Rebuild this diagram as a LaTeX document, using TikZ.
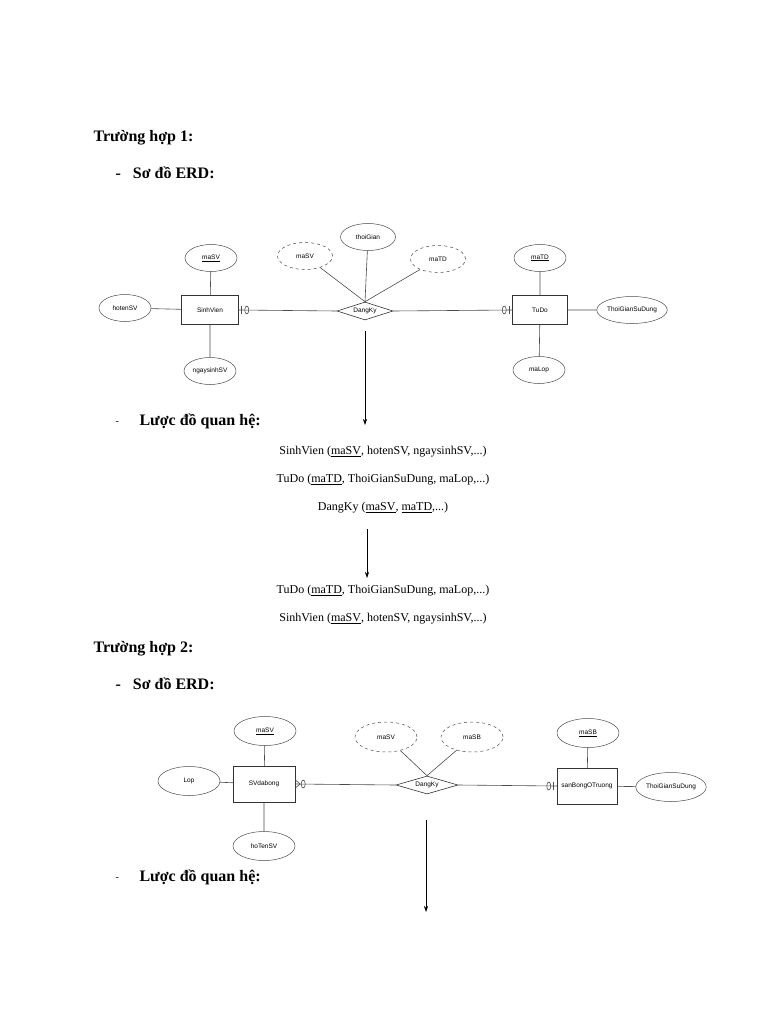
\documentclass[tikz,border=0pt]{standalone}
\usepackage{fontspec}
\setmainfont{Liberation Serif}
\newfontfamily\erdfont{Liberation Sans}
\usetikzlibrary{shapes.geometric,arrows.meta}
\begin{document}
\begin{tikzpicture}[x=1pt,y=-1pt,
  attr/.style={ellipse,draw=black!70,line width=0.5pt,minimum width=#1,minimum height=27pt,inner sep=0pt,font=\erdfont\fontsize{6.5}{7}\selectfont},
  attr/.default=52pt,
  wattr/.style={attr=#1,dashed},
  ent/.style={rectangle,draw=black!80,line width=0.5pt,minimum width=#1,minimum height=29pt,inner sep=0pt,font=\erdfont\fontsize{6.5}{7}\selectfont},
  rel/.style={diamond,aspect=1.9,draw=black!80,line width=0.6pt,minimum width=#1,inner sep=0pt,font=\erdfont\fontsize{6.5}{7}\selectfont},
  ln/.style={draw=black!70,line width=0.6pt},
  head/.style={anchor=west,font=\fontsize{16}{18}\selectfont\bfseries},
  body/.style={font=\fontsize{12}{14}\selectfont},
  arr/.style={-{Stealth[length=6pt,width=4pt]},line width=0.6pt}]
\useasboundingbox (0,0) rectangle (768,1024);
\fill[white] (0,0) rectangle (768,1024);
% headings
\node[head] (h1) at (90,138) {Trường hợp 1:};
\node[head] (d1) at (112,173) {-\hspace{12pt}Sơ đồ ERD:};
\node[anchor=west,font=\fontsize{10}{12}\selectfont] (d2) at (112,423) {-};
\node[head] (l1) at (136,421) {Lược đồ quan hệ:};
% ERD 1
\node[ent=57pt] (sv) at (210,310) {SinhVien};
\node[attr] (masv) at (211,258) {\underline{maSV}};
\node[attr] (hoten) at (125,308) {hotenSV};
\node[attr] (ngs) at (210,371) {ngaysinhSV};
\node[rel=56pt] (dk) at (365,311) {DangKy};
\node[wattr=55pt] (wmasv) at (305,256) {maSV};
\node[attr=55pt] (tg) at (368,237) {thoiGian};
\node[wattr=55pt] (wmatd) at (438,259) {maTD};
\node[ent=55pt] (td) at (540,310) {TuDo};
\node[attr] (matd) at (540,258) {\underline{maTD}};
\node[attr=56pt] (tgsd) at (632,310) {ThoiGianSuDung};
\node[attr] (malop) at (539,370) {maLop};
\draw[ln] (masv)--(sv) (hoten)--(sv) (ngs)--(sv);
\draw[ln] (wmasv)--(dk.north) (tg)--(dk.north) (wmatd)--(dk.north);
\draw[ln] (matd)--(td) (tgsd)--(td) (malop)--(td);
\draw[ln] (sv.east)--(dk.west);
\draw[ln] (dk.east)--(td.west);
\draw[ln] ([xshift=3pt,yshift=-4pt]sv.east)--([xshift=3pt,yshift=4pt]sv.east);
\draw[ln] ([xshift=8pt]sv.east) ellipse (2pt and 4pt);
\draw[ln] ([xshift=-3pt,yshift=-4pt]td.west)--([xshift=-3pt,yshift=4pt]td.west);
\draw[ln] ([xshift=-8pt]td.west) ellipse (2pt and 4pt);
\coordinate (a1e) at (365,425);
\draw[arr] (365,331)--(a1e);
% relations
\node[body] (r1) at (383,452) {SinhVien (\underline{maSV}, hotenSV, ngaysinhSV,...)};
\node[body] (r2) at (383,480) {TuDo (\underline{maTD}, ThoiGianSuDung, maLop,...)};
\node[body] (r3) at (383,508) {DangKy (\underline{maSV}, \underline{maTD},...)};
\coordinate (a2s) at (367,529);
\coordinate (a2e) at (367,578);
\draw[arr] (a2s)--(a2e);
\node[body] (r4) at (383,591) {TuDo (\underline{maTD}, ThoiGianSuDung, maLop,...)};
\node[body] (r5) at (383,619) {SinhVien (\underline{maSV}, hotenSV, ngaysinhSV,...)};
% case 2
\node[head] (h2) at (90,649) {Trường hợp 2:};
\node[head] (d3) at (112,684) {-\hspace{12pt}Sơ đồ ERD:};
\node[ent=62pt,minimum height=36pt] (svd) at (264,784) {SVdabong};
\node[attr=62pt,minimum height=29pt] (masv2) at (265,731) {\underline{maSV}};
\node[attr=62pt,minimum height=29pt] (lop) at (189,781) {Lop};
\node[attr=62pt,minimum height=29pt] (hts) at (264,846) {hoTenSV};
\node[rel=62pt] (dk2) at (427,785) {DangKy};
\node[wattr=62pt,minimum height=30pt] (wmasv2) at (386,737) {maSV};
\node[wattr=62pt,minimum height=30pt] (wmasb) at (472,737) {maSB};
\node[ent=60pt,minimum height=36pt] (sb) at (587,786) {sanBongOTruong};
\node[attr=62pt,minimum height=29pt] (masb) at (588,733) {\underline{maSB}};
\node[attr=60pt,minimum height=29pt] (tgsd2) at (671,787) {ThoiGianSuDung};
\draw[ln] (masv2)--(svd) (lop)--(svd) (hts)--(svd);
\draw[ln] (wmasv2)--(dk2.north) (wmasb)--(dk2.north);
\draw[ln] (masb)--(sb) (tgsd2)--(sb);
\draw[ln] (svd.east)--(dk2.west);
\draw[ln] (dk2.east)--(sb.west);
\draw[ln] ([yshift=-4pt]svd.east)--([xshift=5pt]svd.east)--([yshift=4pt]svd.east);
\draw[ln] ([xshift=8pt]svd.east) ellipse (2pt and 4pt);
\draw[ln] ([xshift=-3pt,yshift=-4pt]sb.west)--([xshift=-3pt,yshift=4pt]sb.west);
\draw[ln] ([xshift=-8pt]sb.west) ellipse (2pt and 4pt);
\node[anchor=west,font=\fontsize{10}{12}\selectfont] (d4) at (112,879) {-};
\node[head] (l2) at (136,877) {Lược đồ quan hệ:};
\coordinate (a3e) at (426,912);
\draw[arr] (426,820)--(a3e);
\end{tikzpicture}
\end{document}
